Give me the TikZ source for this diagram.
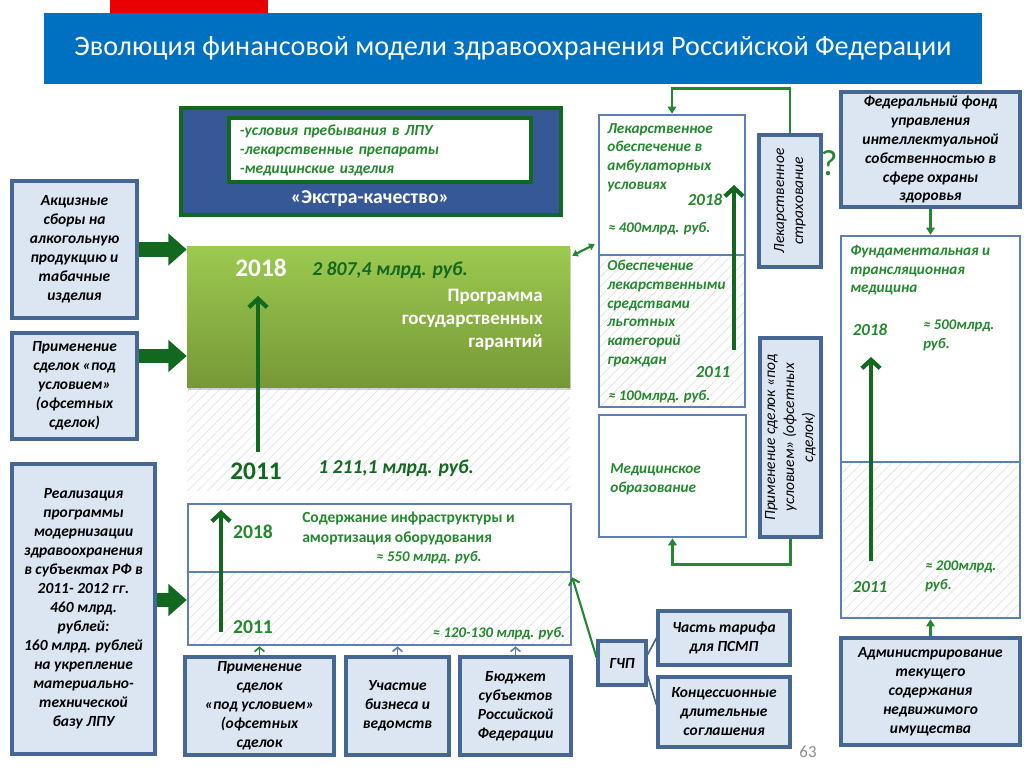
\documentclass[tikz,border=0pt]{standalone}
\usepackage{fontspec}
\setmainfont{Carlito}
\usetikzlibrary{arrows.meta,patterns.meta,shadows,calc}
\definecolor{hdrblue}{RGB}{0,112,192}
\definecolor{topred}{RGB}{232,0,0}
\definecolor{extrafill}{RGB}{55,88,150}
\definecolor{lightfill}{RGB}{220,230,242}
\definecolor{boxline}{RGB}{70,102,148}
\definecolor{wline}{RGB}{92,128,182}
\definecolor{dgreen}{RGB}{18,104,30}
\definecolor{tgreen}{RGB}{36,136,46}
\definecolor{ltgreen}{RGB}{156,202,80}
\definecolor{olgreen}{RGB}{118,152,54}

\begin{document}
\begin{tikzpicture}[
	x=0.025cm, y=-0.025cm,
	every node/.style={inner sep=0pt, font=\fontsize{11}{13.5}\selectfont\bfseries\itshape},
	wh/.style 2 args={minimum width=#1*0.025cm, minimum height=#2*0.025cm},
	lbox/.style={draw=boxline, line width=2.2pt, fill=lightfill, align=center},
	wbox/.style={draw=wline, line width=1.8pt, fill=white},
	gtext/.style={text=tgreen, align=left, font=\fontsize{10.8}{13.3}\selectfont\bfseries\itshape},
	year/.style={text=tgreen, font=\fontsize{12}{14}\selectfont\bfseries\itshape},
	sum/.style={text=tgreen, align=left, font=\fontsize{10.5}{13}\selectfont\bfseries\itshape},
	hatch/.style={pattern={Lines[angle=45, distance=5pt, line width=0.4pt]}, pattern color=black!13},
	bigarrow/.style={draw=dgreen, line width=10pt, -{Triangle[length=13pt, width=22pt]}},
	uparrow/.style={draw=dgreen, line width=3pt, -{Straight Barb[length=6pt, width=13pt]}},
	elbow/.style={draw=tgreen, line width=2pt, -{Triangle[length=5pt, width=6pt]}},
	feed/.style={draw=wline, line width=1.2pt, -{Straight Barb[length=3pt, width=7pt]}}
]
\useasboundingbox (0,0) rectangle (1024,768);
\fill[topred] (110,0) rectangle (268,13);
\node[fill=hdrblue, wh={938}{71}, text=white, font=\fontsize{20}{24}\selectfont] (title) at (513,48.5) {Эволюция финансовой модели здравоохранения Российской Федерации};

\node[fill=extrafill, draw=dgreen, line width=2.2pt, wh={380}{107}] (extra) at (371,161.5) {};
\node[fill=white, draw=dgreen, line width=2.2pt, wh={302}{64}, text width=7cm, align=left, text=tgreen] (extraitems) at (380,150) {-условия пребывания в ЛПУ\\-лекарственные препараты\\-медицинские изделия};
\node[text=white, font=\fontsize{14}{16}\selectfont\bfseries] (extralabel) at (370,199) {«Экстра-качество»};

\node[lbox, wh={125}{137}] (excise) at (74.5,249.5) {Акцизные\\сборы на\\алкогольную\\продукцию и\\табачные\\изделия};
\node[lbox, wh={125}{106}] (offsetleft) at (74.5,386) {Применение\\сделок «под\\условием»\\(офсетных\\сделок)};
\node[lbox, wh={143}{290}] (modern) at (83.5,609) {Реализация\\программы\\модернизации\\здравоохранения\\в субъектах РФ в\\2011- 2012 гг.\\460 млрд.\\рублей:\\160 млрд. рублей\\на укрепление\\материально-\\технической\\базу ЛПУ};

\fill[hatch] (187,387) rectangle (570,490);
\node[wh={383}{141}, top color=ltgreen, bottom color=olgreen, drop shadow={shadow xshift=1pt, shadow yshift=-2pt, opacity=0.35}] (pgg) at (378.5,316.5) {};
\node[text=white, font=\fontsize{18}{20}\selectfont\bfseries] (pggnew) at (261,268) {2018};
\node[text=dgreen, anchor=west, font=\fontsize{14}{16}\selectfont\bfseries\itshape] (pggnewsum) at (312,270) {2 807,4 млрд. руб.};
\node[text=white, align=right, anchor=east, font=\fontsize{13.5}{16.5}\selectfont\bfseries] (pgglabel) at (543,320) {Программа\\государственных\\гарантий};
\node[text=dgreen, font=\fontsize{18}{20}\selectfont\bfseries] (pggold) at (256,471) {2011};
\node[text=dgreen, anchor=west, font=\fontsize{14}{16}\selectfont\bfseries\itshape] (pggoldsum) at (318,468) {1 211,1 млрд. руб.};
\coordinate (pggfrom) at (258,452);
\coordinate (pggto) at (258,296);
\draw[uparrow] (pggfrom) -- (pggto);

\node[wbox, wh={383}{141}] (infra) at (379.5,574.5) {};
\fill[hatch] (189.5,572) rectangle (569.5,643.5);
\draw[wline, line width=1.8pt] (infra.west |- 0,572) -- (infra.east |- 0,572);
\node[text=tgreen, font=\fontsize{14}{16}\selectfont\bfseries] (infranew) at (253,532) {2018};
\node[text=tgreen, font=\fontsize{14}{16}\selectfont\bfseries] (infraold) at (253,627) {2011};
\node[text=tgreen, align=left, anchor=north west, font=\fontsize{11}{14}\selectfont\bfseries] (infralabel) at (302,512) {Содержание инфраструктуры и\\амортизация оборудования};
\node[sum] (infranewsum) at (429,558) {≈ 550 млрд. руб.};
\node[sum] (infraoldsum) at (499,634) {≈ 120-130 млрд. руб.};
\coordinate (infrafrom) at (221,632);
\coordinate (infrato) at (221,510);
\draw[uparrow] (infrafrom) -- (infrato);

\draw[bigarrow] (excise.east) -- (excise.east -| pgg.west);
\coordinate (offsetout) at ($(offsetleft.east)+(0,-30)$);
\draw[bigarrow] (offsetout) -- (offsetout -| pgg.west);
\coordinate (modernout) at ($(modern.east)+(0,-9)$);
\draw[bigarrow] (modernout) -- (modernout -| infra.west);

\node[lbox, wh={149}{98}] (offsetbottom) at (259.5,706) {Применение\\сделок\\«под условием»\\(офсетных\\сделок};
\node[lbox, wh={103}{98}] (business) at (397.5,706) {Участие\\бизнеса и\\ведомств};
\node[lbox, wh={111}{98}] (regional) at (515.5,706) {Бюджет\\субъектов\\Российской\\Федерации};
\draw[feed, tgreen] (offsetbottom.north) -- (offsetbottom.north |- infra.south);
\draw[feed] (business.north) -- (business.north |- infra.south);
\draw[feed] (regional.north) -- (regional.north |- infra.south);

\node[lbox, wh={48}{44}] (ppp) at (622,663) {ГЧП};
\node[lbox, wh={132}{54}] (tariff) at (724,638) {Часть тарифа\\для ПСМП};
\node[lbox, wh={132}{70}] (concession) at (724,712) {Концессионные\\длительные\\соглашения};
\draw[boxline, line width=1.2pt] ([yshift=6pt]ppp.east) -- (tariff.west);
\draw[boxline, line width=1.2pt] ([yshift=-9pt]ppp.east) -- ([yshift=5pt]concession.west);
\draw[tgreen, line width=1.5pt, -{Straight Barb[length=4pt, width=8pt]}] ([yshift=4pt]ppp.west) -- ([yshift=-2pt]infra.east);

\node[wbox, wh={146}{140}] (drugamb) at (672,185) {};
\node[wbox, wh={146}{152}, preaction={fill=white}, hatch] (drugben) at (672,331) {};
\node[gtext, anchor=north west] (drugambtext) at (607,123) {Лекарственное\\обеспечение в\\амбулаторных\\условиях};
\node[year] (drugambnew) at (705,200) {2018};
\node[sum, anchor=west] (drugambsum) at (608,229) {≈ 400млрд. руб.};
\node[gtext, anchor=north west] (drugbentext) at (607,260) {Обеспечение\\лекарственными\\средствами\\льготных\\категорий\\граждан};
\node[year] (drugbenold) at (713,372) {2011};
\node[sum, anchor=west] (drugbensum) at (608,397) {≈ 100млрд. руб.};
\coordinate (drugfrom) at (734,350);
\coordinate (drugto) at (734,185);
\draw[uparrow] (drugfrom) -- (drugto);
\draw[tgreen, line width=1.5pt, {Triangle[length=4pt, width=5pt]}-{Triangle[length=4pt, width=5pt]}] ([shift={(2,10)}]pgg.north east) -- ([shift={(-3,-12)}]drugamb.south west);

\node[wbox, wh={147}{122}] (meded) at (672.5,476) {};
\node[gtext, anchor=west] (mededtext) at (610,479) {Медицинское\\образование};

\node[lbox, rotate=90, wh={132}{62}, font=\fontsize{11}{13.5}\selectfont\itshape] (druginsur) at (790,201) {Лекарственное\\страхование};
\node[text=tgreen, font=\fontsize{26}{28}\selectfont] (query) at (829,163) {?};
\node[lbox, rotate=90, wh={199}{61}, font=\fontsize{11}{13.5}\selectfont\itshape] (offsetright) at (790.5,437.5) {Применение сделок «под\\условием» (офсетных\\сделок)};
\draw[elbow] (druginsur.east) -- ++(0,-45) -| (drugamb.north);
\draw[elbow] (offsetright.west) -- ++(0,26) -| (meded.south);

\node[lbox, wh={179}{115}] (ipfund) at (930.5,149.5) {Федеральный фонд\\управления\\интеллектуальной\\собственностью в\\сфере охраны\\здоровья};
\node[wbox, wh={179}{382}] (fundmed) at (930.5,427) {};
\fill[hatch] (842.5,462) rectangle (1018.5,616.5);
\draw[wline, line width=1.8pt] (fundmed.west |- 0,462) -- (fundmed.east |- 0,462);
\node[gtext, anchor=north west] (fundmedtext) at (850,245) {Фундаментальная и\\трансляционная\\медицина};
\node[year] (fundmednew) at (870,330) {2018};
\node[sum, anchor=north west] (fundmednewsum) at (923,320) {≈ 500млрд.\\руб.};
\node[year] (fundmedold) at (870,587) {2011};
\node[sum, anchor=north west] (fundmedoldsum) at (925,561) {≈ 200млрд.\\руб.};
\coordinate (fundfrom) at (871,561);
\coordinate (fundto) at (871,357);
\draw[uparrow] (fundfrom) -- (fundto);
\node[lbox, wh={179}{107}] (admin) at (930.5,691.5) {Администрирование\\текущего\\содержания\\недвижимого\\имущества};
\draw[elbow] (ipfund.south) -- (fundmed.north);
\draw[elbow] (admin.north) -- (fundmed.south);

\node[text=black!45, font=\fontsize{12}{14}\selectfont] (pagenum) at (808,752) {63};
\end{tikzpicture}
\end{document}
